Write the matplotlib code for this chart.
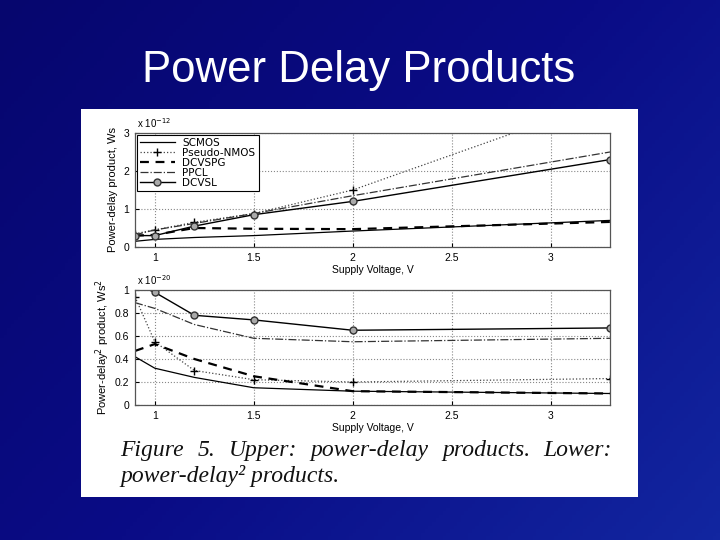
import numpy as np
import matplotlib
matplotlib.use('Agg')
import matplotlib.pyplot as plt
from matplotlib.colors import LinearSegmentedColormap
from matplotlib.patches import Rectangle

plt.rcParams['font.family'] = ['Liberation Sans', 'DejaVu Sans']

# supply voltage, V
voltaje = [0.9, 1.0, 1.2, 1.5, 2.0, 3.3]

# power-delay product, x 1e-12 Ws
pd_scmos = [0.15, 0.20, 0.25, 0.30, 0.42, 0.70]
pd_pseudo = [0.35, 0.45, 0.65, 0.88, 1.50, 3.90]
pd_dcvspg = [0.30, 0.32, 0.50, 0.48, 0.47, 0.66]
pd_ppcl = [0.32, 0.45, 0.62, 0.88, 1.35, 2.50]
pd_dcvsl = [0.30, 0.30, 0.55, 0.85, 1.20, 2.30]

# power-delay^2 product, x 1e-20 Ws^2
pd2_scmos = [0.42, 0.32, 0.24, 0.15, 0.12, 0.10]
pd2_pseudo = [0.94, 0.55, 0.30, 0.22, 0.20, 0.23]
pd2_dcvspg = [0.47, 0.53, 0.40, 0.25, 0.12, 0.10]
pd2_ppcl = [0.89, 0.84, 0.70, 0.58, 0.55, 0.58]
pd2_dcvsl = [1.05, 0.98, 0.78, 0.74, 0.65, 0.67]

nombres = ['SCMOS', 'Pseudo-NMOS', 'DCVSPG', 'PPCL', 'DCVSL']
estilos = [
    dict(ls='-', lw=0.9, color='black'),
    dict(ls=':', lw=0.9, color='#444444', marker='+', ms=6, mew=1.0, mec='black'),
    dict(ls=(0, (4, 3)), lw=1.6, color='black'),
    dict(ls='-.', lw=0.9, color='#333333'),
    dict(ls='-', lw=1.0, color='black', marker='o', ms=5, mfc='#aaaaaa', mec='#333333'),
]

fig = plt.figure(figsize=(7.2, 5.4), dpi=100)

# slide background
fondo = fig.add_axes([0, 0, 1, 1])
fondo.set_zorder(-3)
cmap = LinearSegmentedColormap.from_list('slide', ['#06066e', '#0a0c86', '#1226a0'])
gx, gy = np.meshgrid(np.linspace(0, 1, 200), np.linspace(0, 1, 150))
fondo.imshow(0.6 * gx + 0.4 * gy, cmap=cmap, aspect='auto', extent=[0, 1, 0, 1], origin='upper')
fondo.set_xlim(0, 1)
fondo.set_ylim(0, 1)
fondo.axis('off')

fig.text(0.498, 1 - 82 / 540, 'Power Delay Products', color='white', fontsize=31.5,
         ha='center', va='baseline')

fig.patches.append(Rectangle((81 / 720, 1 - 497 / 540), 557 / 720, 388 / 540,
                             transform=fig.transFigure, facecolor='white',
                             edgecolor='none', zorder=-2))

ax1 = fig.add_axes([135 / 720, 1 - 247 / 540, 475 / 720, 114 / 540])
ax2 = fig.add_axes([135 / 720, 1 - 405 / 540, 475 / 720, 115 / 540])

series_pd = [pd_scmos, pd_pseudo, pd_dcvspg, pd_ppcl, pd_dcvsl]
series_pd2 = [pd2_scmos, pd2_pseudo, pd2_dcvspg, pd2_ppcl, pd2_dcvsl]

for nombre, est, y in zip(nombres, estilos, series_pd):
    ax1.plot(voltaje, y, label=nombre, **est)
for est, y in zip(estilos, series_pd2):
    ax2.plot(voltaje, y, **est)

for ax in (ax1, ax2):
    ax.set_xlim(0.9, 3.3)
    ax.set_xticks([1, 1.5, 2, 2.5, 3])
    ax.set_xticklabels(['1', '1.5', '2', '2.5', '3'])
    ax.grid(True, ls=':', lw=0.8, color='#888888')
    ax.tick_params(direction='in', labelsize=7.5, length=3, pad=4)
    for s in ax.spines.values():
        s.set_color('#555555')
        s.set_linewidth(0.9)
    ax.set_xlabel('Supply Voltage, V', fontsize=7.5, labelpad=2)

ax1.set_ylim(0, 3)
ax1.set_yticks([0, 1, 2, 3])
ax1.set_ylabel('Power-delay product, Ws', fontsize=8, labelpad=4)
ax1.text(0.005, 1.04, r'x 10$^{-12}$', transform=ax1.transAxes, fontsize=7)

ax2.set_ylim(0, 1)
ax2.set_yticks([0, 0.2, 0.4, 0.6, 0.8, 1])
ax2.set_yticklabels(['0', '0.2', '0.4', '0.6', '0.8', '1'])
ax2.set_ylabel(r'Power-delay$^2$ product, Ws$^2$', fontsize=8, labelpad=2)
ax2.text(0.005, 1.04, r'x 10$^{-20}$', transform=ax2.transAxes, fontsize=7)

leg = ax1.legend(loc='upper left', prop=dict(family='DejaVu Sans', size=7.5),
                 frameon=True, fancybox=False, edgecolor='black', framealpha=1,
                 borderaxespad=0.15, handlelength=3.4, handletextpad=0.7,
                 labelspacing=0.0, borderpad=0.3)
leg.get_frame().set_linewidth(0.8)

# caption, first line justified
palabras = ['Figure', '5.', 'Upper:', 'power-delay', 'products.', 'Lower:']
fuente = dict(family=['Liberation Serif', 'DejaVu Serif'], style='italic',
              fontsize=17, color='#111111')
renderer = fig.canvas.get_renderer()
textos = [fig.text(0, 1 - 456 / 540, p, va='baseline', **fuente) for p in palabras]
anchos = [t.get_window_extent(renderer).width for t in textos]
x0, x1 = 120, 612
hueco = (x1 - x0 - sum(anchos)) / (len(palabras) - 1)
x = x0
for t, w in zip(textos, anchos):
    t.set_x(x / 720)
    x += w + hueco
fig.text(120 / 720, 1 - 482 / 540, 'power-delay² products.', va='baseline', **fuente)

fig.savefig('out.png', dpi=100)
